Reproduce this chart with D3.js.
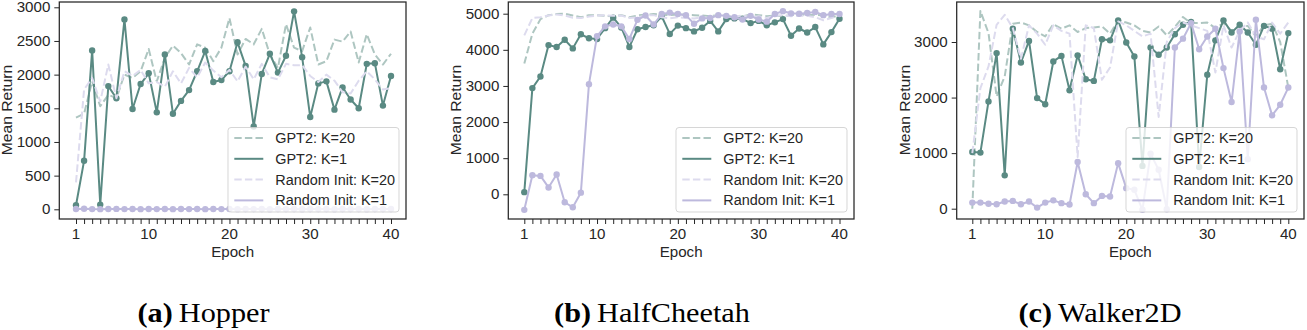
<!DOCTYPE html>
<html><head><meta charset="utf-8">
<script src="https://cdn.jsdelivr.net/npm/d3@7"></script>
<style>body{margin:0;background:#fff}svg{display:block}</style>
</head><body>
<svg id="c" width="1307" height="330"></svg>
<script>
// ---------------- data ----------------
const epochs = [1,2,3,4,5,6,7,8,9,10,11,12,13,14,15,16,17,18,19,20,21,22,23,24,25,26,27,28,29,30,31,32,33,34,35,36,37,38,39,40];
const xTickLabels = [1,10,20,30,40];
const seriesNames = ["GPT2: K=20","GPT2: K=1","Random Init: K=20","Random Init: K=1"];
const captionLetters = ["(a)","(b)","(c)"];
const captionTitles = ["Hopper","HalfCheetah","Walker2D"];
const yAxisTitle = "Mean Return";
const xAxisTitle = "Epoch";

const hopperYTicks = [0,500,1000,1500,2000,2500,3000];
const hopperGpt2K20 = [1360,1420,1900,1530,1700,1650,2000,1950,2050,2380,1900,2250,2430,2320,2150,2450,2400,2200,2400,2840,2300,2530,2450,2680,2300,2100,2750,2400,2350,2700,2150,2200,2520,2490,2640,2180,2600,2300,2150,2310];
const hopperGpt2K1 = [60,720,2360,70,1830,1650,2820,1490,1860,2020,1440,2300,1420,1610,1770,2050,2350,1890,1920,2050,2480,2130,1230,2010,2310,2030,2280,2940,2260,1370,1870,1900,1480,1810,1630,1500,2160,2170,1540,1980];
const hopperRandK20 = [400,1780,1950,1600,2150,1650,2050,1980,2070,1870,1890,1820,2050,1870,2100,1960,2180,2060,1960,2070,1900,2120,1930,2160,1960,1930,2160,2140,2140,1980,1890,2000,1910,1740,1720,1910,2050,1930,1780,1800];
const hopperRandK1 = [5,8,3,2,4,6,3,5,2,4,3,5,2,4,3,5,2,4,3,5,2,4,3,5,2,4,3,5,2,4,3,5,2,4,3,5,2,4,3,5];

const cheetahYTicks = [0,1000,2000,3000,4000,5000];
const cheetahGpt2K20 = [3620,4450,4850,4960,4990,5000,4950,4900,4960,4960,4940,4930,4960,4900,4950,4970,4990,4970,4960,4980,4970,4960,4950,4930,4960,4940,4900,4920,4980,4960,4930,4950,4930,4960,4990,4960,4970,4950,4900,4960];
const cheetahGpt2K1 = [60,2940,3260,4130,4080,4280,4040,4430,4320,4300,4600,4890,4620,4080,4570,4630,4680,4930,4440,4670,4600,4510,4610,4800,4510,4850,4870,4860,4740,4800,4680,4760,4850,4390,4590,4480,4630,4150,4490,4860];
const cheetahRandK20 = [4400,4880,4900,4950,4980,4950,4890,4880,4920,4950,4960,4940,4950,4880,4900,4950,4960,4900,4870,4900,4880,4870,4900,4890,4950,4930,4920,4950,4900,4930,4880,4950,4960,4930,4950,4940,4900,4820,4880,4960];
const cheetahRandK1 = [-430,530,510,190,550,-220,-360,45,3050,4380,4650,4700,4650,4300,4830,4950,4700,4990,5030,4990,4960,4720,4870,4880,4960,4940,4900,4840,4940,4840,4780,4990,5070,5010,5000,5020,5050,4960,4990,4990];

const walkerYTicks = [0,1000,2000,3000];
const walkerGpt2K20 = [0,3560,3160,2020,2380,3330,3350,3300,3180,3100,3320,3240,3300,3180,3250,3260,3280,3150,3390,3350,3300,3200,3170,3280,3120,3270,3450,3340,3340,3350,3250,3340,3200,3290,3290,3100,3300,3330,3000,2180];
const walkerGpt2K1 = [1020,1010,1930,2800,600,3240,2630,3020,1990,1880,2650,2750,2130,2760,2330,2300,3050,3030,3390,2990,2740,770,2900,2770,2900,3140,3310,3360,750,2410,3030,3390,3170,3310,3170,2950,3290,3240,2510,3160];
const walkerRandK20 = [1000,2170,2560,3310,3490,3250,2700,3300,3150,2950,3300,3200,3150,930,3300,3250,2320,2540,3370,3300,3200,3100,3150,1650,3000,3250,3350,3300,3250,3200,2450,3300,2900,3200,3350,3100,3050,3350,3150,3350];
const walkerRandK1 = [110,110,90,80,130,140,80,130,20,110,150,100,75,840,260,100,230,220,820,370,340,-20,990,700,-10,2900,3060,3340,2870,3100,3240,2530,1920,3190,890,3400,2180,1680,1870,2180];

// ---------------- layout / style ----------------
const panels = [
  {series:[hopperGpt2K20,hopperGpt2K1,hopperRandK20,hopperRandK1], yTicks:hopperYTicks,
   box:{l:59.3,r:406,t:2,b:219}, xr:[76,391], yd:[0,3000], yr:[209.3,7.3], capX:203.5},
  {series:[cheetahGpt2K20,cheetahGpt2K1,cheetahRandK20,cheetahRandK1], yTicks:cheetahYTicks,
   box:{l:508.3,r:854,t:2,b:219}, xr:[524.3,839.5], yd:[0,5000], yr:[194.3,13.7], capX:652},
  {series:[walkerGpt2K20,walkerGpt2K1,walkerRandK20,walkerRandK1], yTicks:walkerYTicks,
   box:{l:956.7,r:1304,t:2,b:219}, xr:[972.3,1288.3], yd:[0,3000], yr:[208.7,42], capX:1100}
];
const styles = [
  {color:"#aec6c1", dash:"7.4,3.2", marker:false},
  {color:"#5a8a83", dash:null, marker:true},
  {color:"#dddbee", dash:"7.4,3.2", marker:false},
  {color:"#bdb9dd", dash:null, marker:true}
];
const ink = "#262626";
const FONT = "'Liberation Sans', Arial, Helvetica, sans-serif";
const SX = 1.08;

const svg = d3.select("#c");

function label(g, x, y, s, anchor, size, sx, rot){
  return g.append("text")
    .attr("transform", `translate(${x},${y})` + (rot?` rotate(${rot})`:"") + ` scale(${sx},1)`)
    .attr("text-anchor", anchor)
    .attr("font-family", FONT).attr("font-size", size).attr("fill", ink)
    .text(s);
}

panels.forEach((p, pi) => {
  const g = svg.append("g");
  const x = d3.scaleLinear().domain([epochs[0], epochs[epochs.length-1]]).range(p.xr);
  const y = d3.scaleLinear().domain(p.yd).range(p.yr);
  const b = p.box;

  const clipId = "clip" + pi;
  svg.append("clipPath").attr("id", clipId).append("rect")
    .attr("x", b.l).attr("y", b.t).attr("width", b.r - b.l).attr("height", b.b - b.t);

  const plot = g.append("g").attr("clip-path", `url(#${clipId})`);
  const line = d3.line().x((d,i) => x(epochs[i])).y(d => y(d));

  p.series.forEach((vals, si) => {
    const st = styles[si];
    plot.append("path").datum(vals)
      .attr("d", line).attr("fill","none")
      .attr("stroke", st.color).attr("stroke-width", 2)
      .attr("stroke-linejoin","round").attr("stroke-linecap", st.dash ? "butt" : "round")
      .attr("stroke-dasharray", st.dash);
    if (st.marker) {
      plot.selectAll(null).data(vals).enter().append("circle")
        .attr("cx", (d,i) => x(epochs[i])).attr("cy", d => y(d))
        .attr("r", 3.2).attr("fill", st.color);
    }
  });

  // axes frame
  g.append("rect").attr("x", b.l).attr("y", b.t).attr("width", b.r-b.l).attr("height", b.b-b.t)
    .attr("fill","none").attr("stroke", ink).attr("stroke-width", 1.25);

  // x axis ticks (every epoch) and labels
  const xAxis = d3.axisBottom(x).tickValues(epochs).tickSize(5).tickFormat("");
  const xa = g.append("g").attr("transform", `translate(0,${b.b})`).call(xAxis);
  xa.select(".domain").remove();
  xa.selectAll(".tick line").attr("stroke", ink).attr("stroke-width", 1);
  xTickLabels.forEach(t => label(g, x(t), 239, String(t), "middle", 14, SX));

  // y axis ticks and labels
  const yAxis = d3.axisLeft(y).tickValues(p.yTicks).tickSize(5).tickFormat("");
  const ya = g.append("g").attr("transform", `translate(${b.l},0)`).call(yAxis);
  ya.select(".domain").remove();
  ya.selectAll(".tick line").attr("stroke", ink).attr("stroke-width", 1);
  p.yTicks.forEach(t => label(g, b.l - 9, y(t) + 5, String(t), "end", 14, SX));

  // axis titles
  label(g, (b.l + b.r) / 2, 256.5, xAxisTitle, "middle", 14, SX);
  g.append("text")
    .attr("transform", `translate(${b.l - 47},110) rotate(-90) scale(1.08,1)`)
    .attr("text-anchor","middle").attr("font-family", FONT).attr("font-size", 14.5).attr("fill", ink)
    .text(yAxisTitle);

  // legend
  const lw = 171, lh = 84.5;
  const lx = b.r - 7 - lw, ly = b.b - 7 - lh;
  const lg = g.append("g");
  lg.append("rect").attr("x", lx).attr("y", ly).attr("width", lw).attr("height", lh)
    .attr("rx", 3).attr("fill", "rgba(255,255,255,0.8)").attr("stroke", "rgba(204,204,204,0.8)").attr("stroke-width", 1);
  seriesNames.forEach((name, si) => {
    const cy = ly + 10.5 + si * 20.8;
    const st = styles[si];
    lg.append("line").attr("x1", lx + 6.3).attr("x2", lx + 35.3).attr("y1", cy).attr("y2", cy)
      .attr("stroke", st.color).attr("stroke-width", 2).attr("stroke-dasharray", st.dash);
    label(lg, lx + 47.3, cy + 5, name, "start", 14, 1.03);
  });

  // caption
  const cap = svg.append("text")
    .attr("transform", `translate(${p.capX},322) scale(1.1,1)`)
    .attr("text-anchor","middle").attr("font-family","'Liberation Serif','Times New Roman',serif")
    .attr("font-size", 27.5).attr("fill", "#000");
  cap.append("tspan").attr("font-weight","bold").text(captionLetters[pi]);
  cap.append("tspan").text("\u2009" + captionTitles[pi]);
});
</script>
</body></html>
